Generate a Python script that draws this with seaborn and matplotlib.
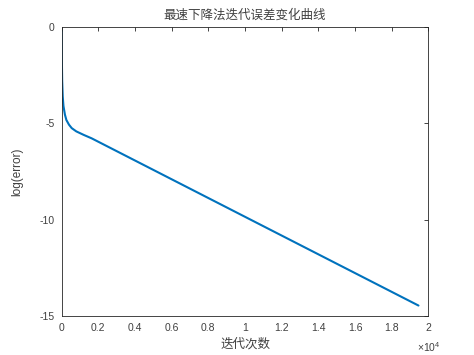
#!/usr/bin/env python3
"""最速下降法迭代误差变化曲线"""

import matplotlib
matplotlib.use("Agg")
import matplotlib.pyplot as plt
import seaborn as sns

# 迭代次数 与 log(error)
iterations = [0, 10, 30, 60, 100, 180, 260, 400, 550, 800, 1200, 1636, 19454]
log_error = [-0.2, -1.5, -2.8, -3.6, -4.1, -4.55, -4.83, -5.07, -5.25, -5.42, -5.6, -5.78, -14.46]

x_ticks = [0, 2000, 4000, 6000, 8000, 10000, 12000, 14000, 16000, 18000, 20000]
x_tick_labels = ["0", "0.2", "0.4", "0.6", "0.8", "1", "1.2", "1.4", "1.6", "1.8", "2"]
y_ticks = [0, -5, -10, -15]

sns.set_style("white")
plt.rcParams['font.family'] = ['Liberation Sans', 'Noto Sans CJK SC', 'DejaVu Sans']
plt.rcParams['axes.unicode_minus'] = False
plt.rcParams['mathtext.fontset'] = 'custom'
plt.rcParams['mathtext.rm'] = 'Liberation Sans'
plt.rcParams['mathtext.it'] = 'Liberation Sans'

fig = plt.figure(figsize=(4.74, 3.55), dpi=100)
ax = fig.add_axes([0.130, 0.110, 0.774, 0.814])

sns.lineplot(x=iterations, y=log_error, ax=ax, color='#0072BD', linewidth=1.5, sort=False)

ax.set_xlim(0, 20000)
ax.set_ylim(-15, 0)
ax.set_xticks(x_ticks)
ax.set_xticklabels(x_tick_labels)
ax.set_yticks(y_ticks)

gray = '#404040'
for s in ax.spines.values():
    s.set_color('#262626')
    s.set_linewidth(0.6)
ax.tick_params(direction='in', length=3, width=0.6, top=True, right=True,
               labelsize=7.5, colors='#262626', labelcolor=gray, pad=5)

ax.set_title("最速下降法迭代误差变化曲线", fontsize=9, color=gray, pad=6)
ax.set_xlabel("迭代次数", fontsize=9, color=gray, labelpad=4)
ax.set_ylabel("log(error)", fontsize=8.5, color=gray, labelpad=12)
ax.text(1.0, -0.085, r"$\times10^{4}$", transform=ax.transAxes, ha='center', va='top',
        fontsize=7.5, color=gray)

plt.savefig("out.png", dpi=100)
